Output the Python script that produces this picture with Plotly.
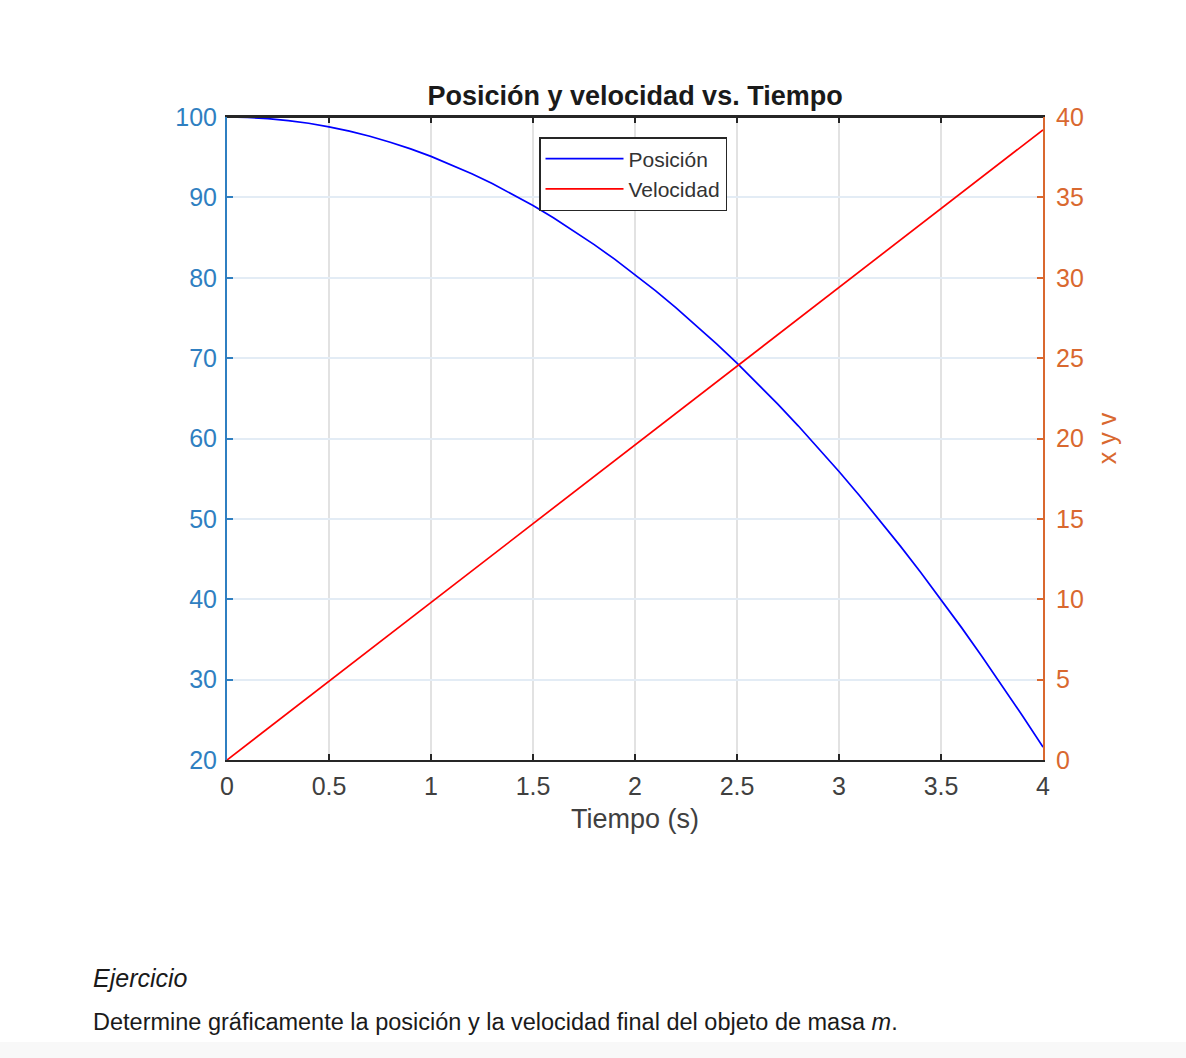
import plotly.graph_objects as go

# ---- data ----
t_pos = [0.0, 0.1, 0.2, 0.3, 0.4, 0.5, 0.6, 0.7, 0.8, 0.9,
         1.0, 1.1, 1.2, 1.3, 1.4, 1.5, 1.6, 1.7, 1.8, 1.9,
         2.0, 2.1, 2.2, 2.3, 2.4, 2.5, 2.6, 2.7, 2.8, 2.9,
         3.0, 3.1, 3.2, 3.3, 3.4, 3.5, 3.6, 3.7, 3.8, 3.9, 4.0]
posicion = [100.0, 99.95, 99.8, 99.56, 99.22, 98.78, 98.24, 97.6, 96.86, 96.03,
            95.1, 94.07, 92.94, 91.72, 90.4, 88.98, 87.46, 85.84, 84.12, 82.31,
            80.4, 78.39, 76.28, 74.08, 71.78, 69.38, 66.88, 64.28, 61.58, 58.79,
            55.9, 52.91, 49.82, 46.64, 43.36, 39.98, 36.5, 32.92, 29.24, 25.47, 21.6]
t_vel = [0.0, 0.5, 1.0, 1.5, 2.0, 2.5, 3.0, 3.5, 4.0]
velocidad = [0.0, 4.9, 9.8, 14.7, 19.6, 24.5, 29.4, 34.3, 39.2]

x_ticks = [0, 0.5, 1, 1.5, 2, 2.5, 3, 3.5, 4]
x_ticklabels = ["0", "0.5", "1", "1.5", "2", "2.5", "3", "3.5", "4"]
y_left_ticks = [20, 30, 40, 50, 60, 70, 80, 90, 100]
y_right_ticks = [0, 5, 10, 15, 20, 25, 30, 35, 40]

title_text = "Posición y velocidad vs. Tiempo"
x_title = "Tiempo (s)"
y2_title = "x y v"

FONT = "Liberation Sans, Arial, Helvetica, sans-serif"
BLUE_AX = "#2f7fc1"
ORANGE_AX = "#d9682f"
DARK = "#262626"

fig = go.Figure()
fig.add_trace(go.Scatter(x=t_pos, y=posicion, mode="lines", name="Posición",
                         line=dict(color="#0000ff", width=1.7), yaxis="y"))
fig.add_trace(go.Scatter(x=t_vel, y=velocidad, mode="lines", name="Velocidad",
                         line=dict(color="#ff0000", width=1.7), yaxis="y2"))

fig.update_layout(
    width=1186, height=1058, autosize=False,
    margin=dict(l=227, r=143, t=117, b=298),
    paper_bgcolor="white", plot_bgcolor="white",
    font=dict(family=FONT, size=25, color="#404040"),
    title=dict(text="<b>" + title_text + "</b>", x=0.5355, xanchor="center",
               y=1 - 96 / 1058, yanchor="middle", yref="container",
               font=dict(family=FONT, size=27, color="#1a1a1a")),
    xaxis=dict(range=[0, 4], tickvals=x_ticks, ticktext=x_ticklabels,
               ticks="inside", ticklen=6, tickwidth=1.5, tickcolor=DARK,
               showline=True, linecolor=DARK, linewidth=2, mirror="ticks",
               showgrid=True, gridcolor="#e2e2e2", gridwidth=1.5,
               zeroline=False, ticklabelstandoff=3,
               tickfont=dict(family=FONT, size=25, color="#404040"),
               title=dict(text=x_title, standoff=10,
                          font=dict(family=FONT, size=27, color="#404040"))),
    yaxis=dict(range=[20, 100], tickvals=y_left_ticks,
               ticks="inside", ticklen=6, tickwidth=1.5, tickcolor=BLUE_AX,
               showline=True, linecolor=BLUE_AX, linewidth=2,
               showgrid=True, gridcolor="#e3ecf5", gridwidth=1.5,
               zeroline=False, ticklabelstandoff=3,
               tickfont=dict(family=FONT, size=25, color=BLUE_AX)),
    yaxis2=dict(range=[0, 40], tickvals=y_right_ticks, overlaying="y", side="right",
                ticks="inside", ticklen=6, tickwidth=1.5, tickcolor=ORANGE_AX,
                showline=True, linecolor=ORANGE_AX, linewidth=2,
                showgrid=False, zeroline=False, ticklabelstandoff=6,
                tickfont=dict(family=FONT, size=25, color=ORANGE_AX),
                title=dict(text=y2_title, standoff=16,
                           font=dict(family=FONT, size=25, color=ORANGE_AX))),
    legend=dict(x=(539 - 227) / 816, y=(760 - 137) / 643, xanchor="left", yanchor="top",
                bgcolor="white", bordercolor=DARK, borderwidth=1.5,
                font=dict(family=FONT, size=21, color="#333333"),
                itemwidth=78, tracegroupgap=0),
    showlegend=True,
)

# Top border of the box (dark)
fig.add_shape(type="line", xref="paper", yref="paper", x0=0, x1=1, y0=1, y1=1,
              line=dict(color=DARK, width=2), layer="above")

# Faint grey strip at the bottom of the page
fig.add_shape(type="rect", xref="paper", yref="paper",
              x0=-227 / 816, x1=(1186 - 227) / 816,
              y0=(760 - 1058) / 643, y1=(760 - 1042) / 643,
              line=dict(width=0), fillcolor="#f8f8f8", layer="below")

# Text below the chart
fig.add_annotation(text="<i>Ejercicio</i>", xref="paper", yref="paper",
                   x=(91 - 227) / 816, y=(760 - 978) / 643, xanchor="left", yanchor="middle",
                   showarrow=False, font=dict(family=FONT, size=25, color="#1a1a1a"))
fig.add_annotation(text="Determine gráficamente la posición y la velocidad final del objeto de masa <i>m</i>.",
                   xref="paper", yref="paper",
                   x=(91 - 227) / 816, y=(760 - 1022) / 643, xanchor="left", yanchor="middle",
                   showarrow=False, font=dict(family=FONT, size=23.5, color="#1a1a1a"))

fig.write_html("out.html")
